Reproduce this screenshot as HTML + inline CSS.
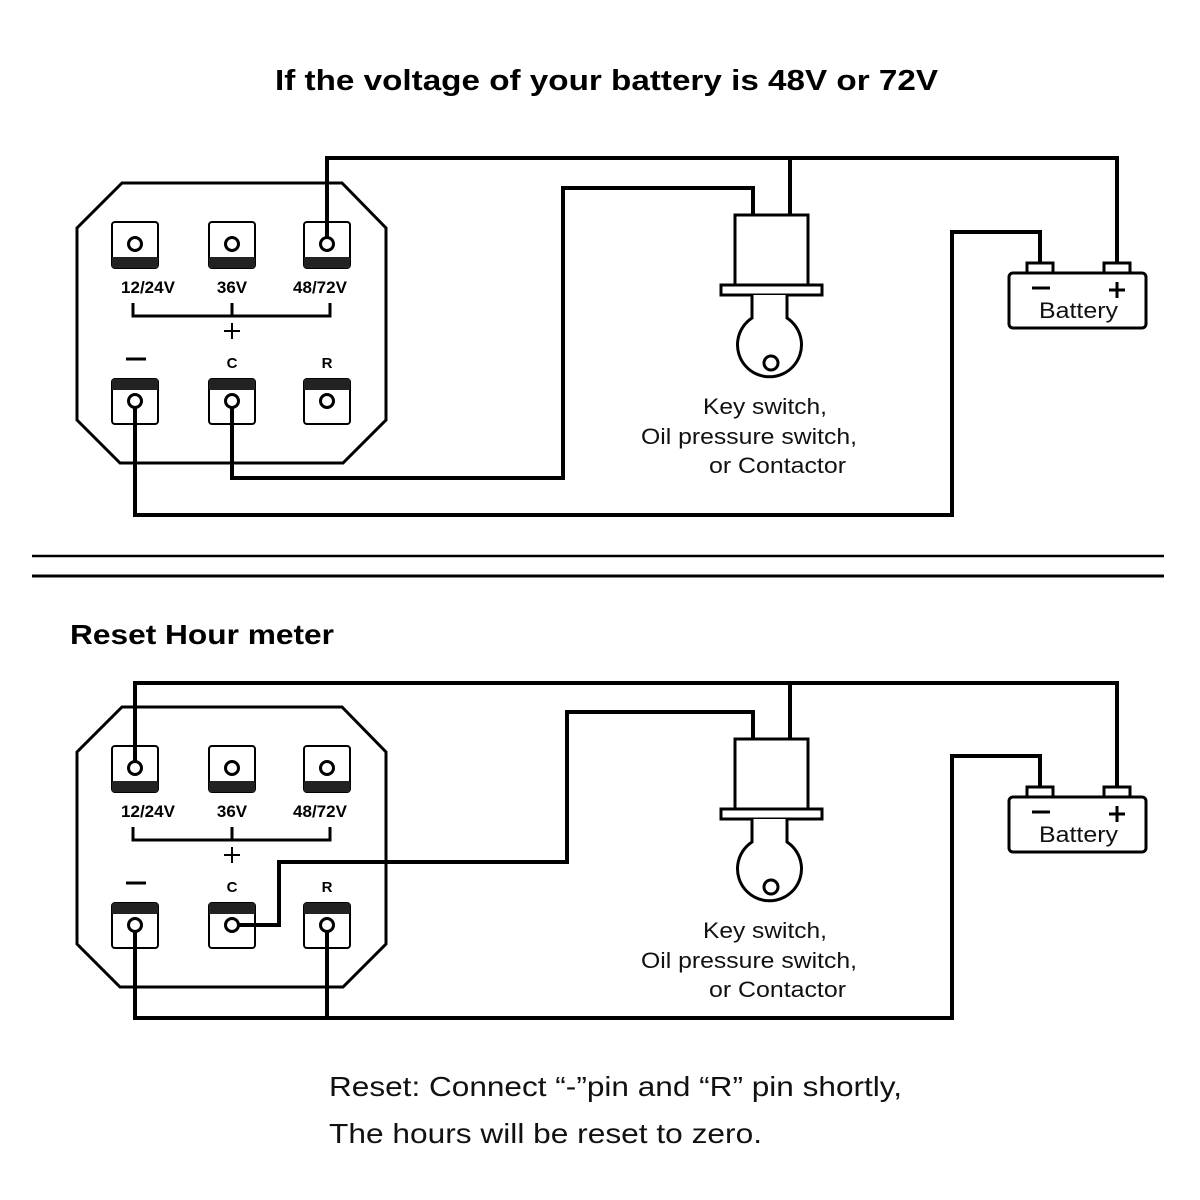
<!DOCTYPE html>
<html><head><meta charset="utf-8"><style>html,body{margin:0;padding:0;background:#fff}svg{display:block}</style></head>
<body>
<svg width="1200" height="1200" viewBox="0 0 1200 1200" xmlns="http://www.w3.org/2000/svg" font-family="Liberation Sans, Arial, sans-serif">
<rect width="1200" height="1200" fill="#fff"/>
<text x="275" y="90" font-size="29" font-weight="bold" textLength="663" lengthAdjust="spacingAndGlyphs">If the voltage of your battery is 48V or 72V</text>
<line x1="32" y1="556" x2="1164" y2="556" stroke="#000" stroke-width="2.5"/>
<line x1="32" y1="576" x2="1164" y2="576" stroke="#000" stroke-width="3"/>
<text x="70" y="644" font-size="28" font-weight="bold" textLength="264" lengthAdjust="spacingAndGlyphs">Reset Hour meter</text>

<!-- meter, key switch, battery: top -->
<g id="top">
<g fill="none" stroke="#000" stroke-width="3">
<polygon points="122,183 342,183 386,228 386,420 343,463 120,463 77,420 77,228"/>
</g>
</g>
<g fill="none" stroke="#000" stroke-width="3">
<polygon points="122,707 342,707 386,752 386,944 343,987 120,987 77,944 77,752"/>
</g>

<!-- terminal boxes -->
<g stroke="#000" stroke-width="2" fill="#fff">
<rect x="112" y="222" width="46" height="46" rx="3"/><rect x="209" y="222" width="46" height="46" rx="3"/><rect x="304" y="222" width="46" height="46" rx="3"/>
<rect x="112" y="379" width="46" height="45" rx="3"/><rect x="209" y="379" width="46" height="45" rx="3"/><rect x="304" y="379" width="46" height="45" rx="3"/>
<rect x="112" y="746" width="46" height="46" rx="3"/><rect x="209" y="746" width="46" height="46" rx="3"/><rect x="304" y="746" width="46" height="46" rx="3"/>
<rect x="112" y="903" width="46" height="45" rx="3"/><rect x="209" y="903" width="46" height="45" rx="3"/><rect x="304" y="903" width="46" height="45" rx="3"/>
</g>
<g fill="#222">
<rect x="112" y="257" width="46" height="11"/><rect x="209" y="257" width="46" height="11"/><rect x="304" y="257" width="46" height="11"/>
<rect x="112" y="379" width="46" height="11"/><rect x="209" y="379" width="46" height="11"/><rect x="304" y="379" width="46" height="11"/>
<rect x="112" y="781" width="46" height="11"/><rect x="209" y="781" width="46" height="11"/><rect x="304" y="781" width="46" height="11"/>
<rect x="112" y="903" width="46" height="11"/><rect x="209" y="903" width="46" height="11"/><rect x="304" y="903" width="46" height="11"/>
</g>

<!-- wires -->
<g fill="none" stroke="#000" stroke-width="4" stroke-linejoin="miter">
<polyline points="327,244 327,158 1117,158 1117,265"/>
<line x1="790" y1="158" x2="790" y2="215"/>
<polyline points="232,401 232,478 563,478 563,188 753,188 753,215"/>
<polyline points="135,401 135,515 952,515 952,232 1040,232 1040,264"/>
<!-- bracket -->
<polyline points="133,303 133,316 330,316 330,303" stroke-width="3"/>
<line x1="232" y1="303" x2="232" y2="316" stroke-width="3"/>
<polyline points="133,827 133,840 330,840 330,827" stroke-width="3"/>
<line x1="232" y1="827" x2="232" y2="840" stroke-width="3"/>

<polyline points="135,768 135,683 1117,683 1117,789"/>
<line x1="790" y1="683" x2="790" y2="739"/>
<polyline points="232,925 279,925 279,862 567,862 567,712 753,712 753,739"/>
<polyline points="135,925 135,1018 952,1018 952,756 1040,756 1040,788"/>
<line x1="327" y1="925" x2="327" y2="1018"/>
</g>

<!-- terminal circles -->
<g fill="#fff" stroke="#000" stroke-width="3">
<circle cx="135" cy="244" r="6.5"/><circle cx="232" cy="244" r="6.5"/><circle cx="327" cy="244" r="6.5"/>
<circle cx="135" cy="401" r="6.5"/><circle cx="232" cy="401" r="6.5"/><circle cx="327" cy="401" r="6.5"/>
<circle cx="135" cy="768" r="6.5"/><circle cx="232" cy="768" r="6.5"/><circle cx="327" cy="768" r="6.5"/>
<circle cx="135" cy="925" r="6.5"/><circle cx="232" cy="925" r="6.5"/><circle cx="327" cy="925" r="6.5"/>
</g>

<!-- meter labels -->
<g font-size="17" font-weight="bold" text-anchor="middle">
<text x="148" y="293">12/24V</text><text x="232" y="293">36V</text><text x="320" y="293">48/72V</text>
<text x="232" y="368" font-size="15">C</text><text x="327" y="368" font-size="15">R</text>
<text x="148" y="817">12/24V</text><text x="232" y="817">36V</text><text x="320" y="817">48/72V</text>
<text x="232" y="892" font-size="15">C</text><text x="327" y="892" font-size="15">R</text>
</g>
<g stroke="#000" stroke-width="3">
<line x1="126" y1="359" x2="146" y2="359"/><line x1="126" y1="883" x2="146" y2="883"/>
</g>
<g stroke="#000" stroke-width="2">
<line x1="224" y1="331" x2="240" y2="331"/><line x1="232" y1="323" x2="232" y2="339"/>
<line x1="224" y1="855" x2="240" y2="855"/><line x1="232" y1="847" x2="232" y2="863"/>
</g>

<!-- key switches -->
<g fill="#fff" stroke="#000" stroke-width="3">
<rect x="735" y="215" width="73" height="70"/>
<rect x="721" y="285" width="101" height="10"/>
<path d="M752,295 L752,318 A32,32 0 1 0 787,318 L787,295"/>
<circle cx="771" cy="363" r="7"/>
<rect x="735" y="739" width="73" height="70"/>
<rect x="721" y="809" width="101" height="10"/>
<path d="M752,819 L752,842 A32,32 0 1 0 787,842 L787,819"/>
<circle cx="771" cy="887" r="7"/>
</g>
<g font-size="22" fill="#111">
<text x="703" y="414" textLength="124" lengthAdjust="spacingAndGlyphs">Key switch,</text>
<text x="641" y="444" textLength="216" lengthAdjust="spacingAndGlyphs">Oil pressure switch,</text>
<text x="709" y="473" textLength="137" lengthAdjust="spacingAndGlyphs">or Contactor</text>
<text x="703" y="938" textLength="124" lengthAdjust="spacingAndGlyphs">Key switch,</text>
<text x="641" y="968" textLength="216" lengthAdjust="spacingAndGlyphs">Oil pressure switch,</text>
<text x="709" y="997" textLength="137" lengthAdjust="spacingAndGlyphs">or Contactor</text>
</g>

<!-- batteries -->
<g fill="#fff" stroke="#000" stroke-width="3">
<rect x="1009" y="273" width="137" height="55" rx="4"/>
<rect x="1027" y="263" width="26" height="10"/><rect x="1104" y="263" width="26" height="10"/>
<rect x="1009" y="797" width="137" height="55" rx="4"/>
<rect x="1027" y="787" width="26" height="10"/><rect x="1104" y="787" width="26" height="10"/>
</g>
<g stroke="#000" stroke-width="3">
<line x1="1032" y1="288" x2="1050" y2="288"/><line x1="1109" y1="290" x2="1125" y2="290"/><line x1="1117" y1="282" x2="1117" y2="298"/>
<line x1="1032" y1="812" x2="1050" y2="812"/><line x1="1109" y1="814" x2="1125" y2="814"/><line x1="1117" y1="806" x2="1117" y2="822"/>
</g>
<g font-size="22" fill="#111">
<text x="1039" y="318" textLength="79" lengthAdjust="spacingAndGlyphs">Battery</text>
<text x="1039" y="842" textLength="79" lengthAdjust="spacingAndGlyphs">Battery</text>
</g>

<g font-size="28" fill="#111">
<text x="329" y="1096" textLength="573" lengthAdjust="spacingAndGlyphs">Reset: Connect “-”pin and “R” pin shortly,</text>
<text x="329" y="1143" textLength="433" lengthAdjust="spacingAndGlyphs">The hours will be reset to zero.</text>
</g>
</svg>
</body></html>
